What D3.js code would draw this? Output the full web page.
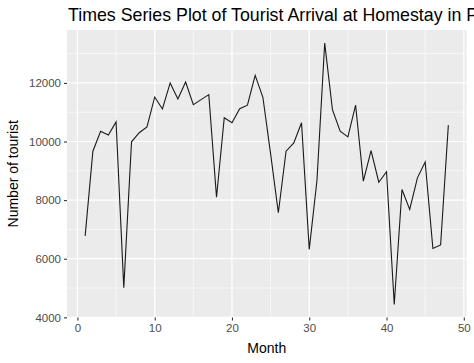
<!DOCTYPE html>
<html>
  <head>
    <meta charset="UTF-8" />
    <style>
      body { margin: 0; background: #fff; }
      svg { display: block; font-family: "Liberation Sans", Arial, sans-serif; }
    </style>
  </head>
  <body>
    <svg></svg>
    <script src="https://d3js.org/d3.v7.min.js"></script>
    <script>
      let width = 474,
        height = 363;

      // Data
      var months = d3.range(1, 49);
      var tourists = [
        6780, 9670, 10350, 10220, 10670, 5010, 9990, 10300, 10500, 11520,
        11110, 12000, 11450, 12030, 11260, 11430, 11600, 8100, 10810, 10640,
        11120, 11240, 12260, 11510, 9580, 7570, 9670, 9950, 10640, 6320,
        8680, 13360, 11090, 10350, 10160, 11240, 8650, 9690, 8610, 8970,
        4440, 8360, 7680, 8760, 9300, 6350, 6470, 10560
      ];
      var xTicks = [0, 10, 20, 30, 40, 50];
      var xMinor = [5, 15, 25, 35, 45];
      var yTicks = [4000, 6000, 8000, 10000, 12000];
      var yMinor = [5000, 7000, 9000, 11000, 13000];

      var data = months.map((m, i) => ({ month: m, value: tourists[i] }));

      let svg = d3.select("svg").attr("width", width).attr("height", height);

      var panel = { left: 67, right: 466.5, top: 30, bottom: 317.5 };

      // ggplot style 5% expansion
      var xExt = d3.extent(months);
      var xPad = (xExt[1] - xExt[0]) * 0.05;
      var yExt = d3.extent(tourists);
      var yPad = (yExt[1] - yExt[0]) * 0.05;

      var x = d3
        .scaleLinear()
        .domain([xExt[0] - xPad, xExt[1] + xPad])
        .range([panel.left, panel.right]);
      var y = d3
        .scaleLinear()
        .domain([yExt[0] - yPad, yExt[1] + yPad])
        .range([panel.bottom, panel.top]);

      // panel background
      svg
        .append("rect")
        .attr("x", panel.left)
        .attr("y", panel.top)
        .attr("width", panel.right - panel.left)
        .attr("height", panel.bottom - panel.top)
        .attr("fill", "#EBEBEB");

      var grid = svg.append("g");
      // minor grid
      grid
        .selectAll(".vminor")
        .data(xMinor)
        .enter()
        .append("line")
        .attr("x1", (d) => x(d))
        .attr("x2", (d) => x(d))
        .attr("y1", panel.top)
        .attr("y2", panel.bottom)
        .attr("stroke", "#fff")
        .attr("stroke-width", 0.6);
      grid
        .selectAll(".hminor")
        .data(yMinor)
        .enter()
        .append("line")
        .attr("x1", panel.left)
        .attr("x2", panel.right)
        .attr("y1", (d) => y(d))
        .attr("y2", (d) => y(d))
        .attr("stroke", "#fff")
        .attr("stroke-width", 0.6);
      // major grid
      grid
        .selectAll(".vmajor")
        .data(xTicks)
        .enter()
        .append("line")
        .attr("x1", (d) => x(d))
        .attr("x2", (d) => x(d))
        .attr("y1", panel.top)
        .attr("y2", panel.bottom)
        .attr("stroke", "#fff")
        .attr("stroke-width", 1.2);
      grid
        .selectAll(".hmajor")
        .data(yTicks)
        .enter()
        .append("line")
        .attr("x1", panel.left)
        .attr("x2", panel.right)
        .attr("y1", (d) => y(d))
        .attr("y2", (d) => y(d))
        .attr("stroke", "#fff")
        .attr("stroke-width", 1.2);

      // the series
      var line = d3
        .line()
        .x((d) => x(d.month))
        .y((d) => y(d.value));
      svg
        .append("path")
        .datum(data)
        .attr("d", line)
        .attr("fill", "none")
        .attr("stroke", "#1a1a1a")
        .attr("stroke-width", 1.1);

      // axes
      var xAxis = svg
        .append("g")
        .attr("transform", "translate(0," + panel.bottom + ")")
        .call(d3.axisBottom(x).tickValues(xTicks).tickSize(3).tickPadding(3));
      var yAxis = svg
        .append("g")
        .attr("transform", "translate(" + panel.left + ",0)")
        .call(
          d3.axisLeft(y).tickValues(yTicks).tickFormat(d3.format("d")).tickSize(3).tickPadding(3)
        );
      [xAxis, yAxis].forEach((a) => {
        a.select(".domain").remove();
        a.selectAll("line").attr("stroke", "#333").attr("stroke-width", 1.1);
        a.selectAll("text")
          .attr("fill", "#4D4D4D")
          .style("font-size", "11.5px")
          .style("font-family", "'Liberation Sans', Arial, sans-serif");
      });

      // titles
      svg
        .append("text")
        .attr("x", (panel.left + panel.right) / 2)
        .attr("y", 353)
        .attr("text-anchor", "middle")
        .style("font-size", "14px")
        .attr("fill", "#000")
        .text("Month");

      svg
        .append("text")
        .attr("transform", "translate(18," + (panel.top + panel.bottom) / 2 + ") rotate(-90)")
        .attr("text-anchor", "middle")
        .style("font-size", "14px")
        .attr("fill", "#000")
        .text("Number of tourist");

      // the title runs past the right edge, as in the original
      svg
        .append("text")
        .attr("x", panel.left + 1)
        .attr("y", 21)
        .style("font-size", "17.8px")
        .attr("fill", "#000")
        .text("Times Series Plot of Tourist Arrival at Homestay in Perak");
    </script>
  </body>
</html>
